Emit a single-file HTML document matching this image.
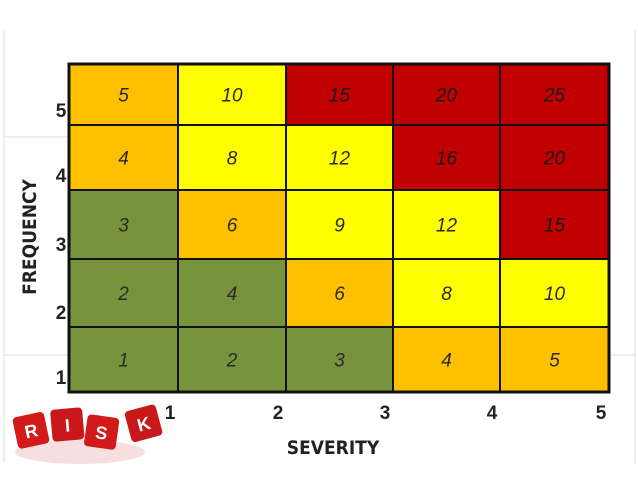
<!DOCTYPE html>
<html><head><meta charset="utf-8"><style>
body{margin:0;background:#fff;}
svg{display:block;font-family:"Liberation Sans",sans-serif;}
</style></head><body>
<svg width="638" height="493">
<line x1="4" y1="30" x2="4" y2="463" stroke="#ddd"/>
<line x1="635" y1="30" x2="635" y2="463" stroke="#ddd"/>
<line x1="4" y1="137" x2="68" y2="137" stroke="#ddd"/>
<line x1="4" y1="355" x2="635" y2="355" stroke="#ddd"/>
<g id="cells"></g>
<g id="ticks"></g>
<text x="333" y="454" font-size="19" font-weight="bold" fill="#222" text-anchor="middle" style="font-family:'DejaVu Sans Condensed','Liberation Sans',sans-serif">SEVERITY</text>
<text transform="translate(36,237) rotate(-90)" font-size="19" font-weight="bold" fill="#222" text-anchor="middle" style="font-family:'DejaVu Sans Condensed','Liberation Sans',sans-serif">FREQUENCY</text>
<g>
<ellipse cx="80" cy="452" rx="65" ry="12" fill="#f2caca" opacity="0.6"/>
<g transform="translate(12,418) rotate(-12)"><rect width="32" height="32" rx="4" fill="#d21a1a"/><text x="16" y="23" font-size="18" font-weight="bold" fill="#fff" text-anchor="middle">R</text></g>
<g transform="translate(50,410) rotate(-5)"><rect width="32" height="32" rx="4" fill="#c9171a"/><text x="16" y="23" font-size="18" font-weight="bold" fill="#fff" text-anchor="middle">I</text></g>
<g transform="translate(88,414) rotate(8)"><rect width="32" height="32" rx="4" fill="#d21a1a"/><text x="16" y="23" font-size="18" font-weight="bold" fill="#fff" text-anchor="middle">S</text></g>
<g transform="translate(124,412) rotate(-15)"><rect width="32" height="32" rx="4" fill="#c9171a"/><text x="16" y="23" font-size="18" font-weight="bold" fill="#fff" text-anchor="middle">K</text></g>
</g>
<rect x="69" y="64" width="540" height="328" fill="none" stroke="#111" stroke-width="3"/>
<script>
const severities=[1,2,3,4,5];
const frequencies=[1,2,3,4,5];
// risk level per row (frequency 1..5), per column (severity 1..5): 0 green,1 orange,2 yellow,3 red
const levelRow1=[0,0,0,1,1];
const levelRow2=[0,0,1,2,2];
const levelRow3=[0,1,2,2,3];
const levelRow4=[1,2,2,3,3];
const levelRow5=[1,2,3,3,3];
const xTickLabels=["1","2","3","4","5"];
const yTickLabels=["1","2","3","4","5"];
(function(){
 const ns="http://www.w3.org/2000/svg";
 const levels=[levelRow1,levelRow2,levelRow3,levelRow4,levelRow5];
 const colors=["#77933C","#FFC000","#FFFF00","#C00000"];
 const colB=[69,178,286,393,500,609];
 const rowB=[392,327,259,190,125,64];
 const cg=document.getElementById("cells");
 frequencies.forEach((f,ri)=>{severities.forEach((s,ci)=>{
  const v=s*f;
  const x=colB[ci],w=colB[ci+1]-x,yb=rowB[ri],yt=rowB[ri+1];
  const r=document.createElementNS(ns,"rect");
  r.setAttribute("x",x);r.setAttribute("y",yt);r.setAttribute("width",w);r.setAttribute("height",yb-yt);
  r.setAttribute("fill",colors[levels[ri][ci]]);r.setAttribute("stroke","#111");r.setAttribute("stroke-width","2");
  
  
  cg.appendChild(r);
  const t=document.createElementNS(ns,"text");
  t.setAttribute("x",x+w/2);t.setAttribute("y",(yt+yb)/2+7);
  t.setAttribute("text-anchor","middle");t.setAttribute("font-size","19");t.setAttribute("font-style","italic");
  t.setAttribute("fill",levels[ri][ci]===3?"#1a1a1a":"#2a2a2a");t.textContent=v;
  
  
  cg.appendChild(t);
 });});
 const tg=document.getElementById("ticks");
 xTickLabels.forEach((l,i)=>{
  const t=document.createElementNS(ns,"text");
  t.setAttribute("x",colB[i+1]-8);t.setAttribute("y",419);t.setAttribute("text-anchor","middle");
  t.setAttribute("font-size","19");t.setAttribute("font-weight","bold");t.setAttribute("fill","#222");t.textContent=l;
  
  
  tg.appendChild(t);
 });
 yTickLabels.forEach((l,i)=>{
  const t=document.createElementNS(ns,"text");
  t.setAttribute("x",61);t.setAttribute("y",rowB[i]-8);t.setAttribute("text-anchor","middle");
  t.setAttribute("font-size","19");t.setAttribute("font-weight","bold");t.setAttribute("fill","#222");t.textContent=l;
  
  
  tg.appendChild(t);
 });
})();
</script>
</svg>
</body></html>
